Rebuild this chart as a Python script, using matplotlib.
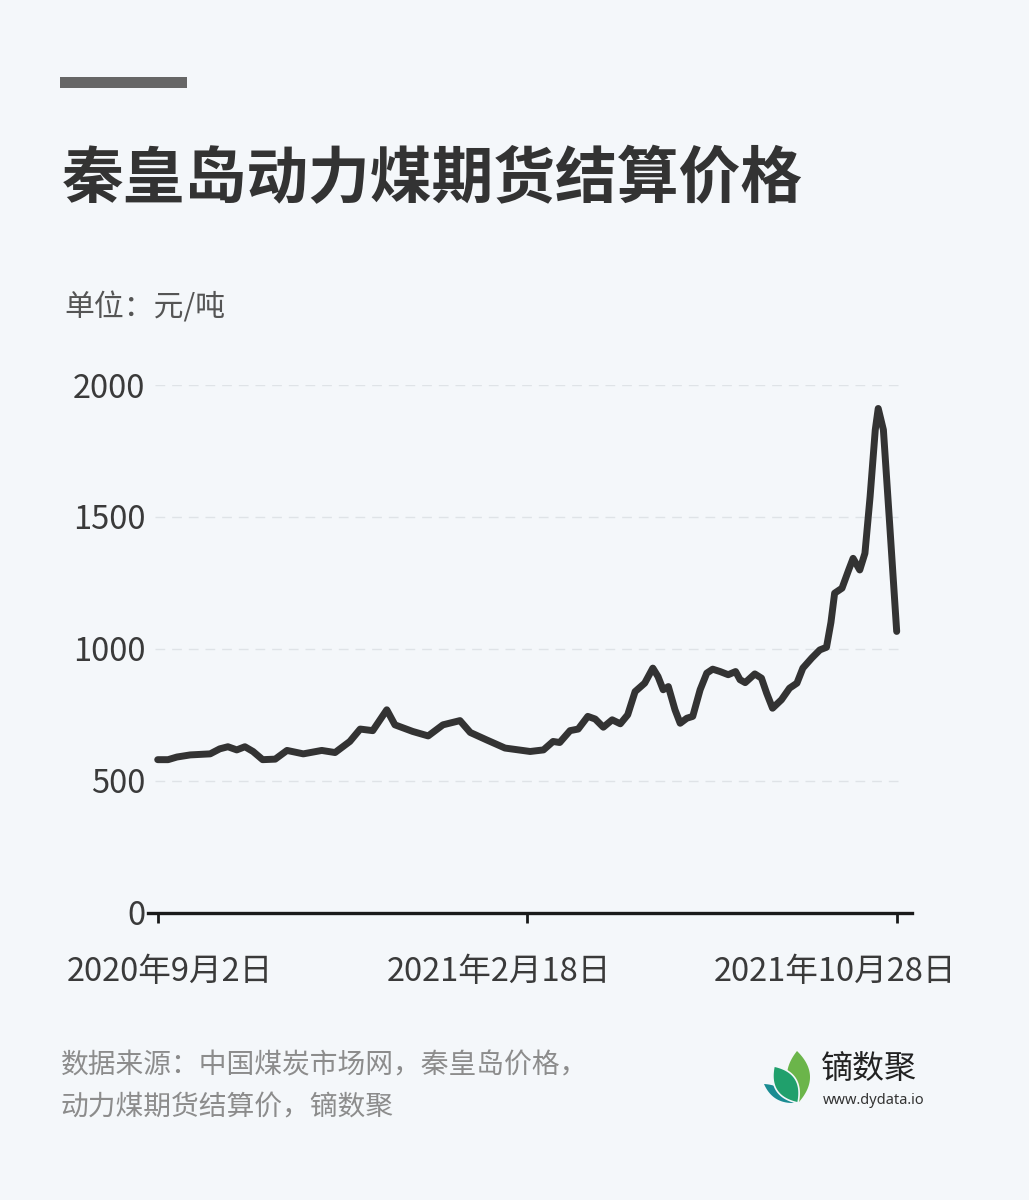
import matplotlib
matplotlib.use("Agg")
import matplotlib.pyplot as plt
import numpy as np
from matplotlib.patches import Polygon, Rectangle
from matplotlib.transforms import ScaledTranslation

plt.rcParams['font.family'] = ['Noto Sans CJK SC', 'DejaVu Sans']

# ---------------- data ----------------
# position along the period (0 = 2020-09-02, 100 = 2021-10-28)
t = [0.0, 1.4, 2.6, 4.4, 7.1, 8.4, 9.5, 10.7, 11.8, 12.9, 14.2, 15.9, 17.5, 19.7,
     22.2, 24.0, 26.0, 27.4, 29.1, 31.0, 32.1, 34.5, 36.6, 38.6, 40.9, 42.3, 44.5,
     47.0, 50.4, 52.2, 53.5, 54.4, 55.8, 56.9, 58.2, 59.2, 60.3, 61.5, 62.6, 63.6,
     64.6, 65.9, 67.0, 67.7, 68.4, 69.1, 70.0, 70.7, 71.6, 72.4, 73.4, 74.3, 75.1,
     76.1, 77.2, 78.2, 78.8, 79.5, 80.8, 81.7, 82.4, 83.2, 84.4, 85.5, 86.5, 87.3,
     88.5, 89.6, 90.5, 91.1, 91.6, 92.6, 93.5, 94.1, 95.0, 95.7, 96.4, 97.1, 97.5,
     98.2, 99.1, 100.0]
price = [580, 580, 590, 598, 602, 621, 629, 617, 629, 611, 580, 582, 615, 602,
         615, 607, 649, 696, 690, 769, 712, 687, 670, 712, 728, 683, 655,
         624, 611, 617, 649, 645, 690, 696, 744, 734, 703, 731, 716, 750,
         838, 870, 927, 895, 845, 857, 769, 718, 737, 744, 845, 908, 923,
         914, 902, 914, 883, 872, 905, 889, 832, 775, 807, 851, 870, 927,
         965, 996, 1006, 1100, 1211, 1230, 1299, 1343, 1299, 1362, 1577, 1830, 1911,
         1830, 1451, 1066]
x_tick_pos = [0, 50, 100]
x_tick_labels = ['2020年9月2日', '2021年2月18日', '2021年10月28日']
y_ticks = [0, 500, 1000, 1500, 2000]

title = '秦皇岛动力煤期货结算价格'
unit = '单位：元/吨'
source1 = '数据来源：中国煤炭市场网，秦皇岛价格，'
source2 = '动力煤期货结算价，镝数聚'

# ---------------- figure ----------------
W, H = 1029, 1200
BG = '#f4f7fa'
fig = plt.figure(figsize=(W / 100, H / 100), dpi=100, facecolor=BG)

# decoration layer in pixel coordinates
deco = fig.add_axes([0, 0, 1, 1], zorder=0)
deco.set_xlim(0, W)
deco.set_ylim(H, 0)
deco.axis('off')
deco.patch.set_alpha(0)

deco.add_patch(Rectangle((60, 76.5), 126.5, 11, color='#666666', lw=0))
deco.text(62, 198, title, fontsize=44.5, fontweight='bold', color='#333333',
          va='baseline', ha='left')
deco.text(64, 316, unit, fontsize=21.5, color='#555555', va='baseline', ha='left')
deco.text(61, 1073, source1, fontsize=20, color='#8c8c8c', va='baseline', ha='left')
deco.text(61, 1115, source2, fontsize=20, color='#8c8c8c', va='baseline', ha='left')


def leaf(p0, p1, w_a, w_b, n=40):
    p0 = np.array(p0, float)
    p1 = np.array(p1, float)
    d = p1 - p0
    nrm = np.array([-d[1], d[0]]) / np.hypot(*d)
    s = np.linspace(0, 1, n)[:, None]
    c1 = (p0 + p1) / 2 + nrm * 2 * w_a
    c2 = (p0 + p1) / 2 + nrm * 2 * w_b
    side1 = (1 - s) ** 2 * p0 + 2 * (1 - s) * s * c1 + s ** 2 * p1
    side2 = (1 - s) ** 2 * p0 + 2 * (1 - s) * s * c2 + s ** 2 * p1
    return np.vstack([side1, side2[::-1]])


deco.add_patch(Polygon(leaf((799, 1102), (797, 1051), 12, -11), closed=True,
                       facecolor='#6bb54a', edgecolor='none'))
deco.add_patch(Polygon(leaf((794, 1103), (764, 1084), 5, -6), closed=True,
                       facecolor='#1a8c92', edgecolor='none'))
deco.add_patch(Polygon(leaf((798, 1103), (774, 1066), 11, -11), closed=True,
                       facecolor='#20a06c', edgecolor=BG, lw=1.2))
deco.text(821, 1078, '镝数聚', fontsize=23, color='#222222', va='baseline', ha='left')
deco.text(823, 1101, 'www.dydata.io', fontsize=10.5, color='#333333', va='center',
          ha='left', family=['Noto Sans', 'DejaVu Sans'])

# chart axes
left, right = 148, 912
bottom, top = 912.7, 385
ax = fig.add_axes([left / W, 1 - bottom / H, (right - left) / W, (bottom - top) / H],
                  zorder=1)
ax.patch.set_alpha(0)
px_per_unit = (896.7 - 157.7) / 100
ax.set_xlim(-(157.7 - left) / px_per_unit, 100 + (right - 896.7) / px_per_unit)
ax.set_ylim(0, 2000)

for yv in y_ticks[1:]:
    ax.hlines(yv, -0.3, 100.2, colors='#dfe3e7', linewidth=1.0,
              linestyles=(0, (7, 5)), zorder=1)

ax.plot(t, price, color='#333333', lw=5, solid_joinstyle='round',
        solid_capstyle='round', zorder=3, clip_on=False)

for s in ['top', 'right', 'left']:
    ax.spines[s].set_visible(False)
ax.spines['bottom'].set_color('#1a1a1a')
ax.spines['bottom'].set_linewidth(2.4)

ax.set_yticks(y_ticks)
ax.set_yticklabels([str(v) for v in y_ticks])
ax.tick_params(axis='y', length=0, pad=2, labelsize=23.5, labelcolor='#3a3a3a')
ax.set_xticks(x_tick_pos)
ax.set_xticklabels(x_tick_labels)
ax.tick_params(axis='x', length=7.2, width=2, color='#1a1a1a', direction='out',
               pad=24, labelsize=23.5, labelcolor='#3a3a3a')

offsets_px = [12, -28, -62]
for lab, dx in zip(ax.get_xticklabels(), offsets_px):
    lab.set_transform(lab.get_transform() + ScaledTranslation(dx / 100, 0, fig.dpi_scale_trans))

fig.savefig('out.png', dpi=100, facecolor=BG)
